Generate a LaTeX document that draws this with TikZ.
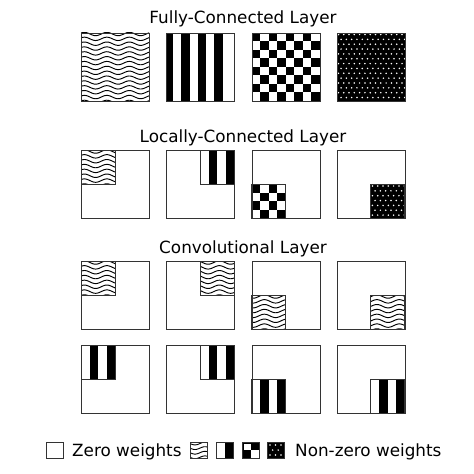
\documentclass[tikz,border=0pt]{standalone}
\usepackage{fontspec}
\setmainfont{DejaVu Sans}
\newcommand{\fsz}{\fontsize{16.8pt}{18pt}\selectfont}
% wave hatch: x0 y0 w h
\newcommand{\wavefill}[4]{%
  \begin{scope}
    \clip (#1,#2) rectangle ++(#3,#4);
    \foreach \k in {-1,...,15}{%
      \pgfmathsetmacro\yy{#2+\k*4.85+1.5}%
      \draw[line width=0.95pt] plot[domain=#1-2:#1+#3+2, samples=40, smooth] (\x,{\yy+1.7*sin(\x*16.0)});
    }
  \end{scope}}
% stripes
\newcommand{\stripefill}[4]{%
  \begin{scope}
    \clip (#1,#2) rectangle ++(#3,#4);
    \foreach \s in {8.5,25.5,42.5,59.5}{\fill (#1+\s,#2) rectangle ++(8.5,#4);}
  \end{scope}}
\newcommand{\stripefull}[4]{%
  \begin{scope}
    \clip (#1,#2) rectangle ++(#3,#4);
    \foreach \s in {-1.8,14.8,31.4,48}{\fill (#1+\s,#2) rectangle ++(8.4,#4);}
  \end{scope}}
% checker: x0 y0 n cells (cell 8.5)
\newcommand{\checkfill}[3]{%
  \begin{scope}
    \pgfmathtruncatemacro\nn{#3-1}%
    \foreach \i in {0,...,\nn}{\foreach \j in {0,...,\nn}{%
      \pgfmathtruncatemacro\parity{mod(\i+\j,2)}%
      \ifnum\parity=0 \fill (#1+\i*8.5,#2+\j*8.5) rectangle ++(8.5,8.5);\fi}}
  \end{scope}}
% dots: x0 y0 w h
\newcommand{\dotsfill}[4]{%
  \begin{scope}
    \clip (#1,#2) rectangle ++(#3,#4);
    \fill (#1,#2) rectangle ++(#3,#4);
    \foreach \r in {0,...,15}{\foreach \c in {0,...,14}{%
      \pgfmathsetmacro\ox{mod(\r,2)*2.65}%
      \fill[white] (#1+1.5+\c*5.3+\ox,#2+2+\r*4.85) circle (0.85);}}
  \end{scope}}
\tikzset{
  box/.style={draw=black!80, line width=0.9pt, minimum width=68pt, minimum height=68pt, inner sep=0pt, anchor=north west},
  patch/.style={draw=black!80, line width=0.9pt},
  ttl/.style={font=\fsz, anchor=base},
  leg/.style={font=\fsz, anchor=base west, inner sep=0pt}
}
\begin{document}
\begin{tikzpicture}[x=1pt,y=-1pt]
\useasboundingbox (0,0) rectangle (474,474);
\def\ca{81}\def\cb{166.3}\def\cc{251.6}\def\cd{336.9}
\def\ra{32.5}\def\rb{150}\def\rc{261}\def\rd{345}
% titles
\node[ttl] (t1) at (243,23) {Fully-Connected Layer};
\node[ttl] (t2) at (243,142.5) {Locally-Connected Layer};
\node[ttl] (t3) at (243,253) {Convolutional Layer};
% row 1
\wavefill{\ca}{\ra}{68}{68}
\stripefull{\cb}{\ra}{68}{68}
\checkfill{\cc}{\ra}{8}
\dotsfill{\cd}{\ra}{68}{68}
\node[box] (b11) at (\ca,\ra) {};
\node[box] (b12) at (\cb,\ra) {};
\node[box] (b13) at (\cc,\ra) {};
\node[box] (b14) at (\cd,\ra) {};
% row 2
\wavefill{\ca}{\rb}{34}{34}
\draw[patch] (\ca,\rb) rectangle ++(34,34);
\stripefill{\cb+34}{\rb}{34}{34}
\draw[patch] (\cb+34,\rb) rectangle ++(34,34);
\checkfill{\cc}{\rb+34}{4}
\draw[patch] (\cc,\rb+34) rectangle ++(34,34);
\dotsfill{\cd+34}{\rb+34}{34}{34}
\draw[patch] (\cd+34,\rb+34) rectangle ++(34,34);
\node[box] (b21) at (\ca,\rb) {};
\node[box] (b22) at (\cb,\rb) {};
\node[box] (b23) at (\cc,\rb) {};
\node[box] (b24) at (\cd,\rb) {};
% row 3
\wavefill{\ca}{\rc}{34}{34}
\draw[patch] (\ca,\rc) rectangle ++(34,34);
\wavefill{\cb+34}{\rc}{34}{34}
\draw[patch] (\cb+34,\rc) rectangle ++(34,34);
\wavefill{\cc}{\rc+34}{34}{34}
\draw[patch] (\cc,\rc+34) rectangle ++(34,34);
\wavefill{\cd+34}{\rc+34}{34}{34}
\draw[patch] (\cd+34,\rc+34) rectangle ++(34,34);
\node[box] (b31) at (\ca,\rc) {};
\node[box] (b32) at (\cb,\rc) {};
\node[box] (b33) at (\cc,\rc) {};
\node[box] (b34) at (\cd,\rc) {};
% row 4
\stripefill{\ca}{\rd}{34}{34}
\draw[patch] (\ca,\rd) rectangle ++(34,34);
\stripefill{\cb+34}{\rd}{34}{34}
\draw[patch] (\cb+34,\rd) rectangle ++(34,34);
\stripefill{\cc}{\rd+34}{34}{34}
\draw[patch] (\cc,\rd+34) rectangle ++(34,34);
\stripefill{\cd+34}{\rd+34}{34}{34}
\draw[patch] (\cd+34,\rd+34) rectangle ++(34,34);
\node[box] (b41) at (\ca,\rd) {};
\node[box] (b42) at (\cb,\rd) {};
\node[box] (b43) at (\cc,\rd) {};
\node[box] (b44) at (\cd,\rd) {};
% legend
\draw[patch] (46,442) rectangle ++(17,16);
\node[leg] (lz) at (72,456) {Zero weights};
\begin{scope}
  \clip (190,442) rectangle ++(17,16);
  \foreach \k in {0,...,3}{\draw[line width=0.9pt] plot[domain=188:209, samples=30, smooth] (\x,{443.5+\k*4.6+1.4*sin((\x-190)*18)});}
\end{scope}
\draw[patch] (190,442) rectangle ++(17,16);
\fill (224.5,442) rectangle ++(8.5,16);
\draw[patch] (216,442) rectangle ++(17,16);
\begin{scope}
  \clip (242,442) rectangle ++(17,16);
  \fill (242,442) rectangle ++(17,1.5);
  \fill (242,442) rectangle ++(1.5,16);
  \fill (250.5,442) rectangle ++(8.5,8);
  \fill (242,450) rectangle ++(8.5,8);
\end{scope}
\draw[patch] (242,442) rectangle ++(17,16);
\fill (267,442) rectangle ++(17,16);
\foreach \p in {(270,445),(275.5,445),(281,445),(272.7,450),(278.2,450),(270,455),(275.5,455),(281,455)}{\fill[white] \p circle (0.8);}
\draw[patch] (267,442) rectangle ++(17,16);
\node[leg] (lnz) at (295,456) {Non-zero weights};
\end{tikzpicture}
\end{document}
